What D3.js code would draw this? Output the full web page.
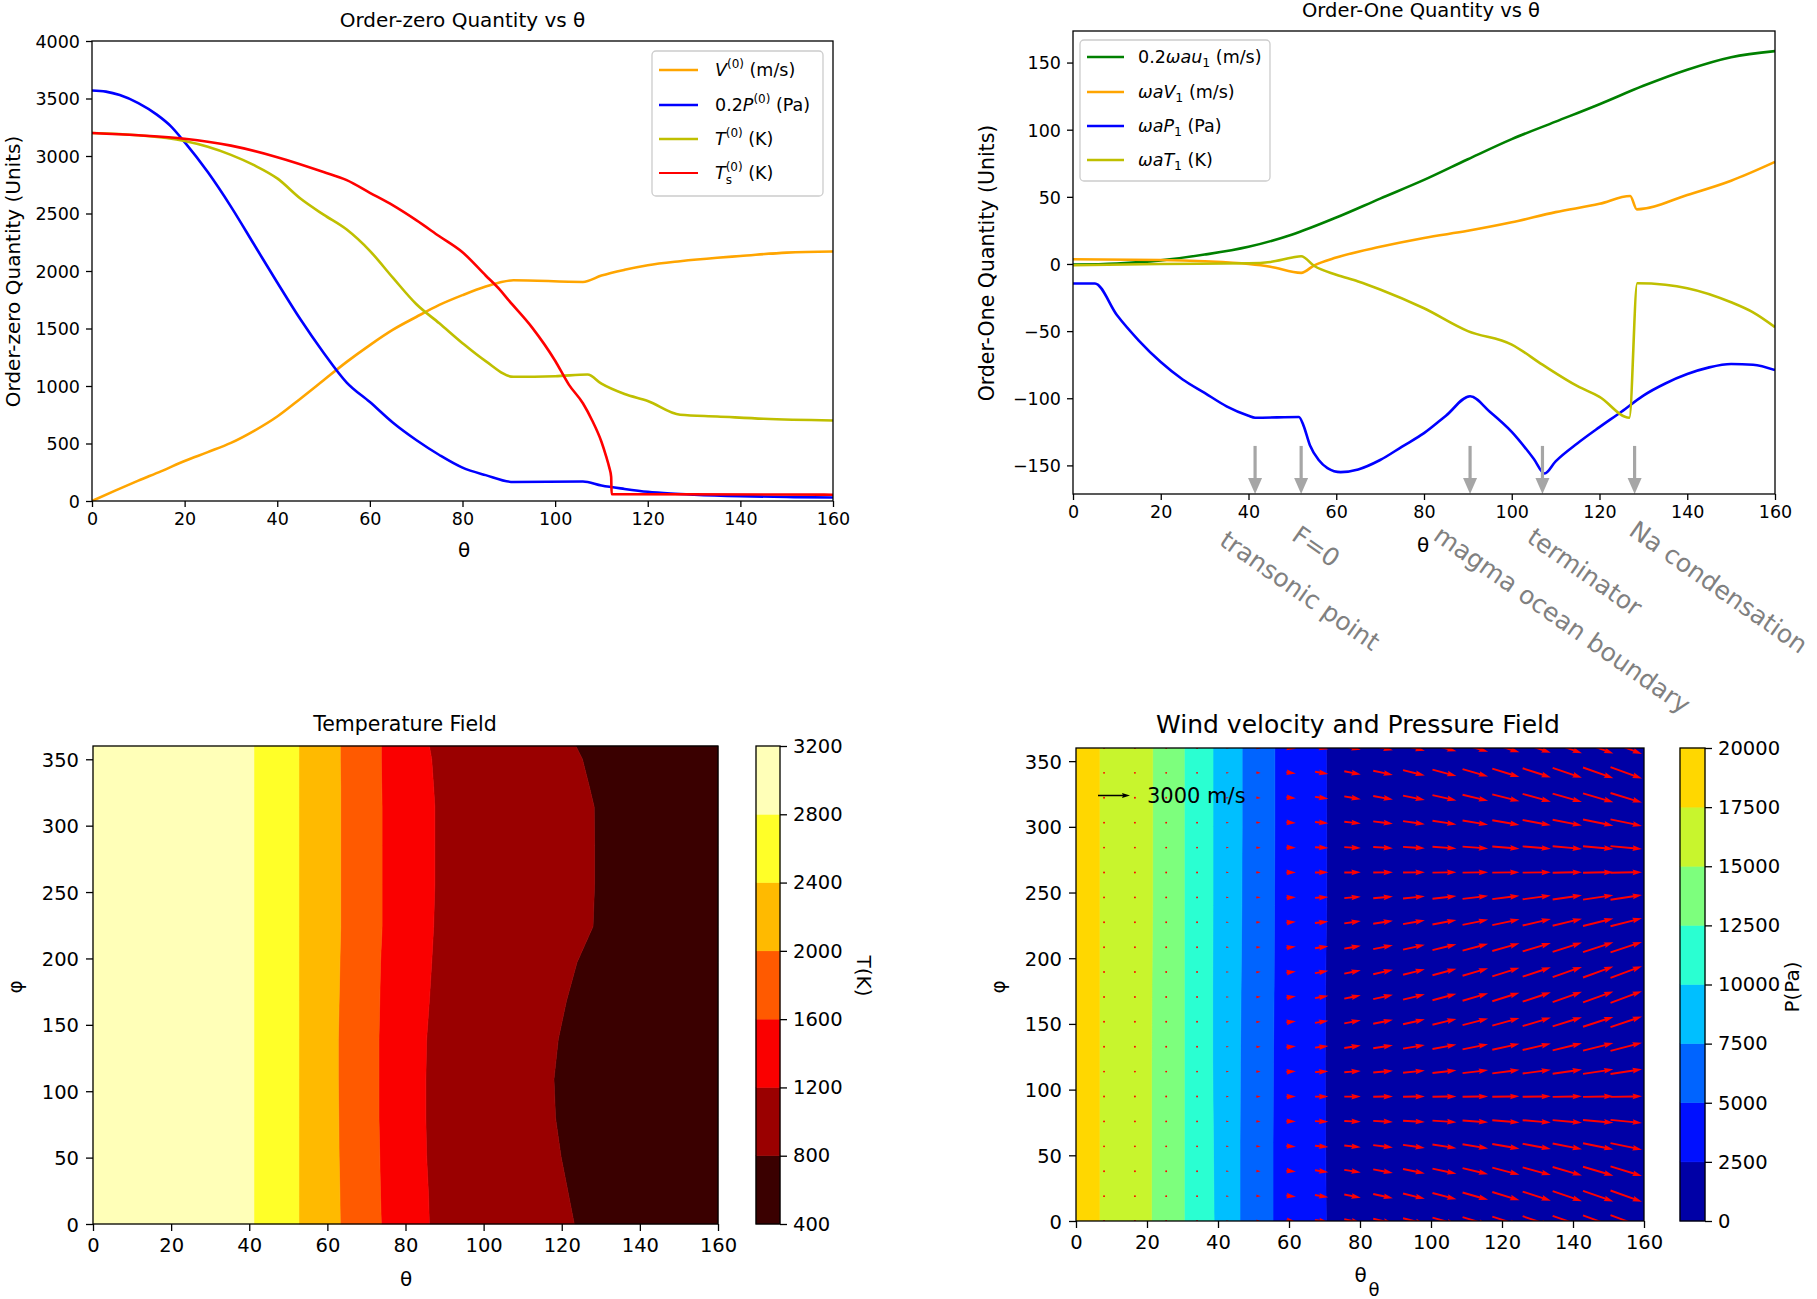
<!DOCTYPE html>
<html><head><meta charset="utf-8">
<script src="https://cdn.jsdelivr.net/npm/d3@7"></script>
<style>body{margin:0;background:#fff}svg{display:block}text{font-family:"DejaVu Sans",sans-serif}</style>
</head><body><svg id="c" width="1817" height="1299"></svg>
<script>
// ---------------- DATA ----------------
// Panel A: order-zero quantities vs theta
const v0Theta = [0,5,10,15,20,25,30,35,40,45,50,55,60,65,70,75,80,85,88,91,106,110,115,120,127,135,140,150,160];
const v0Vals  = [0,90,177,260,348,425,505,610,735,890,1050,1210,1356,1490,1600,1705,1790,1865,1900,1920,1905,1960,2010,2050,2085,2115,2130,2160,2170];
const p0Theta = [0,3,6,10,14,17,20,25,30,35,40,45,50,55,60,65,70,75,80,85,91,106,110,115,120,125,130,140,150,160];
const p0Vals  = [3570,3560,3530,3460,3360,3260,3120,2860,2560,2230,1900,1580,1290,1030,860,680,530,400,290,225,165,170,135,105,80,65,55,42,35,30];
const t0Theta = [0,10,20,25,30,35,40,45,50,55,60,65,70,75,80,85,91,100,107,110,115,120,127,135,145,160];
const t0Vals  = [3200,3180,3130,3080,3010,2920,2805,2630,2490,2360,2175,1940,1713,1545,1372,1216,1080,1085,1100,1020,930,870,750,735,715,700];
const ts0Theta = [0,10,20,30,40,50,55,60,65,70,75,80,85,88,90,95,100,103,106,108,110,111,111.7,112.1,112.2,160];
const ts0Vals  = [3200,3180,3150,3090,2990,2861,2790,2680,2570,2442,2302,2163,1961,1840,1744,1510,1220,1010,850,700,515,390,290,210,60,55];

// Panel B: order-one quantities vs theta
const u1Theta = [0,10,20,30,40,50,60,70,80,90,100,110,120,130,140,150,160];
const u1Vals  = [-0.5,0.3,2.7,7,12.8,22,34.6,48.7,62.6,78,93,106,119,132.7,144.7,154,158.5];
const v1Theta = [0,20,30,40,45,52,55,60,70,80,90,100,110,120,127,128.5,140,150,160];
const v1Vals  = [3.5,3,2,0,-2,-6.6,-1,4.8,12.8,19.4,24.7,31,38.6,44.8,50.6,40.7,51.4,62,76];
const p1Theta = [0,5,10,15,20,25,30,35,40,41.5,51.5,52.5,54,56,58,61,65,70,75,80,85,90.5,95,100,105,107.5,110,115,120,125,130,135,140,145,150,155,160];
const p1Vals  = [-14.5,-14.5,-38,-57,-73,-86,-96,-106,-113,-114.5,-114,-120,-135,-146,-152,-155,-153,-146,-136,-126,-113,-98.5,-110,-125,-145,-156,-147,-133.5,-121.5,-110,-98,-89,-82,-77,-74.5,-75,-79];
const t1Theta = [0,20,40,45,50,52,55,60,65,70,80,90,100,107,115,120,126.8,128.6,135,140,150,155,160];
const t1Vals  = [-1,0,0.5,1.5,4.8,5.8,-1.5,-8,-13,-19,-33,-50,-60,-75,-91,-99,-114.5,-14.4,-15.5,-18,-28.5,-36,-47];
const markerTheta  = [41.5,52,90.5,107,128];
const markerLabels = ["transonic point","F=0","magma ocean boundary","terminator","Na condensation"];
const markerArrowTop = -135.5;

// Panel C: temperature field (filled contour band edges, theta of each level boundary at sampled phi)
const tempLevels = [400,800,1200,1600,2000,2400,2800,3200];
const tempPhi   = [0,21,51,80,109,139,168,197,224,256,285,314,329,350,360];
const tempEdge800  = [123.2,121.8,119.8,118.4,118.0,119.1,121.2,123.9,128.0,128.4,128.4,128.3,127.1,125.3,123.6];
const tempEdge1200 = [86.1,85.9,85.4,85.2,85.2,85.4,86.1,86.7,87.2,87.5,87.5,87.5,87.2,86.7,86.1];
const tempEdge1600 = [73.8,73.6,73.4,73.2,73.2,73.2,73.4,73.6,74.0,74.0,74.0,74.0,73.9,73.8,73.8];
const tempEdge2000 = [63.3,63.2,63.0,62.9,62.8,62.8,63.0,63.2,63.4,63.4,63.4,63.4,63.4,63.3,63.3];
const tempEdge2400 = [52.7,52.7,52.7,52.7,52.7,52.7,52.7,52.7,52.7,52.7,52.7,52.7,52.7,52.7,52.7];
const tempEdge2800 = [41.2,41.2,41.2,41.2,41.2,41.2,41.2,41.2,41.2,41.2,41.2,41.2,41.2,41.2,41.2];
const tempColors = ['#3a0000','#9a0000','#fa0000','#ff5a00','#ffba00','#ffff28','#ffffb8'];

// Panel D: pressure field + wind vectors
const presLevels = [0,2500,5000,7500,10000,12500,15000,17500,20000];
const presPhi = [0,60,120,180,240,300,360];
const presEdge2500  = [70.5,70.3,70.2,70.3,70.6,70.6,70.5];
const presEdge5000  = [55.5,55.5,55.6,55.8,55.9,56.0,56.0];
const presEdge7500  = [46.2,46.2,46.3,46.5,46.7,46.8,46.8];
const presEdge10000 = [38.9,38.7,38.5,38.5,38.6,38.6,38.6];
const presEdge12500 = [30.5,30.5,30.5,30.5,30.5,30.5,30.5];
const presEdge15000 = [21.3,21.3,21.3,21.4,21.6,21.6,21.6];
const presEdge17500 = [6.6,6.6,6.6,6.6,6.6,6.6,6.6];
const presColors = ['#0000a6','#0010ff','#0064ff','#00bfff','#2affd2','#7dff7d','#c8f52d','#ffd700'];
const quiverTheta = [7.9,16.6,25.4,34.1,42.7,51.4,60.6,69.2,77.9,86.5,95.2,103.8,112.5,121.1,129.8,138.4,147.1,155.0];
const quiverPhi = [0,18.9,37.9,56.8,75.8,94.7,113.7,132.6,151.6,170.5,189.5,208.4,227.4,246.3,265.3,284.2,303.2,322.1,341.1,360];
const quiverU = [40,60,90,140,260,420,900,1250,1550,1850,2050,2250,2400,2550,2650,2750,2850,2950];
const quiverVAmp = [0,0,0,0,0,40,120,220,320,420,520,620,720,820,900,980,1050,1120];
const quiverRowFactor = [-1.0,-0.95,-0.8,-0.55,-0.25,0.05,0.4,0.68,0.88,0.98,0.98,0.88,0.68,0.4,0.05,-0.25,-0.55,-0.8,-0.95,-1.0];
const quiverKeySpeed = 3000;

// ---------------- DRAWING ----------------
const svg = d3.select('#c');
const BLACK = '#000';

function styleAxis(g, fs){
  g.attr('font-size', fs).attr('font-family','DejaVu Sans, sans-serif');
  g.select('.domain').remove();
  g.selectAll('line').attr('stroke',BLACK).attr('stroke-width',1.3);
  g.selectAll('text').attr('fill',BLACK);
}
function drawAxes(x, y, xt, yt, fs, tick){
  const [x0,x1] = x.range(), [y1,y0] = y.range();
  const gx = svg.append('g').attr('transform',`translate(0,${y1})`)
    .call(d3.axisBottom(x).tickValues(xt).tickFormat(d3.format('d')).tickSize(tick).tickSizeOuter(0).tickPadding(tick));
  styleAxis(gx, fs);
  const gy = svg.append('g').attr('transform',`translate(${x0},0)`)
    .call(d3.axisLeft(y).tickValues(yt).tickFormat(d3.format('d')).tickSize(tick).tickSizeOuter(0).tickPadding(tick));
  styleAxis(gy, fs);
  gy.selectAll('text').attr('dy','0.36em');
}
function frame(x,y){
  const [x0,x1] = x.range(), [y1,y0] = y.range();
  svg.append('rect').attr('x',x0).attr('y',y0).attr('width',x1-x0).attr('height',y1-y0)
    .attr('fill','none').attr('stroke',BLACK).attr('stroke-width',1.3);
}
function text(x,y,s,fs,opt={}){
  const t = svg.append('text').attr('x',x).attr('y',y).attr('font-size',fs)
    .attr('text-anchor',opt.anchor||'middle').attr('fill',opt.fill||BLACK).text(s);
  if(opt.rotate!==undefined) t.attr('transform',`rotate(${opt.rotate},${x},${y})`);
  return t;
}
function clip(id,x,y){
  const [x0,x1] = x.range(), [y1,y0] = y.range();
  svg.append('clipPath').attr('id',id).append('rect').attr('x',x0).attr('y',y0).attr('width',x1-x0).attr('height',y1-y0);
  return `url(#${id})`;
}

// ===== Panel A =====
{
  const x = d3.scaleLinear().domain([0,160]).range([92,833]);
  const y = d3.scaleLinear().domain([0,4000]).range([501,41]);
  const cp = clip('clipA',x,y);
  const series = [
    {t:v0Theta,v:v0Vals,c:'#ffa500'},
    {t:p0Theta,v:p0Vals,c:'#0000ff'},
    {t:t0Theta,v:t0Vals,c:'#bfbf00'},
    {t:ts0Theta,v:ts0Vals,c:'#ff0000'}];
  const g = svg.append('g').attr('clip-path',cp);
  series.forEach(s=>{
    const line = d3.line().curve(d3.curveMonotoneX).x((d,i)=>x(s.t[i])).y((d,i)=>y(d));
    g.append('path').attr('d',line(s.v)).attr('fill','none').attr('stroke',s.c).attr('stroke-width',2.6).attr('stroke-linejoin','round');
  });
  frame(x,y);
  drawAxes(x,y,d3.range(0,161,20),d3.range(0,4001,500),17.5,6);
  text(462.5,27,'Order-zero Quantity vs θ',20);
  text(464,557,'θ',20);
  text(20,271.5,'Order-zero Quantity (Units)',20,{rotate:-90});
  // legend
  const lg = svg.append('g').attr('font-size',17.5);
  lg.append('rect').attr('x',652).attr('y',51).attr('width',171).attr('height',145).attr('rx',4)
    .attr('fill','#fff').attr('fill-opacity',0.8).attr('stroke','#cccccc').attr('stroke-width',1.3);
  const ys=[70,105,139,173];
  series.forEach((s,i)=>{
    lg.append('line').attr('x1',659).attr('x2',698).attr('y1',ys[i]).attr('y2',ys[i]).attr('stroke',s.c).attr('stroke-width',i===3?1.8:2.6);
  });
  const mk = (i)=> lg.append('text').attr('x',715).attr('y',ys[i]+6).attr('fill',BLACK);
  let t=mk(0); t.append('tspan').attr('font-style','italic').text('V');
  t.append('tspan').attr('font-size',12).attr('dy',-8).text('(0)');
  t.append('tspan').attr('dy',8).text(' (m/s)');
  t=mk(1); t.append('tspan').text('0.2'); t.append('tspan').attr('font-style','italic').text('P');
  t.append('tspan').attr('font-size',12).attr('dy',-8).text('(0)');
  t.append('tspan').attr('dy',8).text(' (Pa)');
  t=mk(2); t.append('tspan').attr('font-style','italic').text('T');
  t.append('tspan').attr('font-size',12).attr('dy',-8).text('(0)');
  t.append('tspan').attr('dy',8).text(' (K)');
  t=mk(3); t.append('tspan').attr('font-style','italic').text('T');
  t.append('tspan').attr('font-size',12).attr('dy',5).text('s');
  t.append('tspan').attr('font-size',12).attr('dx',-6.3).attr('dy',-13).text('(0)');
  t.append('tspan').attr('dy',8).text(' (K)');
}

// ===== Panel B =====
{
  const x = d3.scaleLinear().domain([0,160]).range([1073,1775]);
  const y = d3.scaleLinear().domain([-171.3,173.5]).range([494,31]);
  const cp = clip('clipB',x,y);
  const series = [
    {t:u1Theta,v:u1Vals,c:'#008000'},
    {t:v1Theta,v:v1Vals,c:'#ffa500'},
    {t:p1Theta,v:p1Vals,c:'#0000ff'},
    {t:t1Theta,v:t1Vals,c:'#bfbf00'}];
  const g = svg.append('g').attr('clip-path',cp);
  series.forEach(s=>{
    const line = d3.line().curve(d3.curveMonotoneX).x((d,i)=>x(s.t[i])).y((d,i)=>y(d));
    g.append('path').attr('d',line(s.v)).attr('fill','none').attr('stroke',s.c).attr('stroke-width',2.6).attr('stroke-linejoin','round');
  });
  // markers
  const ybot = y.range()[0];
  markerTheta.forEach(th=>{
    const xa = x(th), yt = y(markerArrowTop);
    g.append('line').attr('x1',xa).attr('x2',xa).attr('y1',yt).attr('y2',ybot-14).attr('stroke','#a6a6a6').attr('stroke-width',3.2);
    g.append('path').attr('d',`M${xa-7},${ybot-16}L${xa+7},${ybot-16}L${xa},${ybot}Z`).attr('fill','#a6a6a6');
  });
  frame(x,y);
  drawAxes(x,y,d3.range(0,161,20),d3.range(-150,151,50),17.5,6);
  text(1421,16.5,'Order-One Quantity vs θ',19.5);
  text(1423,552,'θ',20);
  text(994,263,'Order-One Quantity (Units)',20.5,{rotate:-90});
  const labelOffset = [[-37,8],[-11,3],[-38,3],[-17,5],[-7,-2]];
  markerTheta.forEach((th,i)=>{
    const lx = x(th)+labelOffset[i][0], ly = 536+labelOffset[i][1];
    text(lx,ly,markerLabels[i],25,{anchor:'start',fill:'#808080',rotate:35});
  });
  // legend
  const lg = svg.append('g').attr('font-size',17.5);
  lg.append('rect').attr('x',1080).attr('y',40).attr('width',190).attr('height',141).attr('rx',4)
    .attr('fill','#fff').attr('fill-opacity',0.8).attr('stroke','#cccccc').attr('stroke-width',1.3);
  const ys=[57,92,126,160];
  series.forEach((s,i)=>{
    lg.append('line').attr('x1',1087).attr('x2',1124).attr('y1',ys[i]).attr('y2',ys[i]).attr('stroke',s.c).attr('stroke-width',2.6);
  });
  const names = [['0.2','ωau','(m/s)'],['','ωaV','(m/s)'],['','ωaP','(Pa)'],['','ωaT','(K)']];
  names.forEach((n,i)=>{
    const t = lg.append('text').attr('x',1138).attr('y',ys[i]+6).attr('fill',BLACK);
    if(n[0]) t.append('tspan').text(n[0]);
    t.append('tspan').attr('font-style','italic').text(n[1]);
    t.append('tspan').attr('font-size',12.5).attr('dy',4).text('1');
    t.append('tspan').attr('dy',-4).text(' '+n[2]);
  });
}

// ===== Panel C =====
{
  const x = d3.scaleLinear().domain([0,160]).range([93,718]);
  const y = d3.scaleLinear().domain([0,360]).range([1224,746]);
  const order = [tempPhi.map(()=>160), tempEdge800, tempEdge1200, tempEdge1600, tempEdge2000, tempEdge2400, tempEdge2800, tempPhi.map(()=>0)];
  const g = svg.append('g');
  for(let b=0;b<tempColors.length;b++){
    const right = order[b], left = order[b+1];
    const pts = tempPhi.map((p,i)=>[x(left[i]),y(p)]).concat(tempPhi.map((p,i)=>[x(right[i]),y(p)]).reverse());
    g.append('path').attr('d','M'+pts.map(p=>p.join(',')).join('L')+'Z').attr('fill',tempColors[b]).attr('stroke',tempColors[b]).attr('stroke-width',0.6);
  }
  frame(x,y);
  drawAxes(x,y,d3.range(0,161,20),d3.range(0,351,50),19.5,7);
  text(405,731,'Temperature Field',20.5);
  text(406,1286,'θ',20);
  text(22,987,'φ',20,{rotate:-90});
  // colorbar
  const cy = d3.scaleLinear().domain([400,3200]).range([1224,746]);
  for(let b=0;b<tempColors.length;b++){
    svg.append('rect').attr('x',756).attr('y',cy(tempLevels[b+1])).attr('width',24).attr('height',cy(tempLevels[b])-cy(tempLevels[b+1]))
      .attr('fill',tempColors[b]).attr('stroke',tempColors[b]).attr('stroke-width',0.5);
  }
  svg.append('rect').attr('x',756).attr('y',746).attr('width',24).attr('height',478).attr('fill','none').attr('stroke',BLACK).attr('stroke-width',1.3);
  const ga = svg.append('g').attr('transform','translate(780,0)')
    .call(d3.axisRight(cy).tickValues(tempLevels).tickFormat(d3.format('d')).tickSize(7).tickSizeOuter(0).tickPadding(6));
  styleAxis(ga,19.5);
  text(857,976,'T(K)',20,{rotate:90});
}

// ===== Panel D =====
{
  const x = d3.scaleLinear().domain([0,160]).range([1076,1644]);
  const y = d3.scaleLinear().domain([0,360]).range([1221,748]);
  const cp = clip('clipD',x,y);
  const order = [presPhi.map(()=>160), presEdge2500, presEdge5000, presEdge7500, presEdge10000, presEdge12500, presEdge15000, presEdge17500, presPhi.map(()=>0)];
  const g = svg.append('g').attr('clip-path',cp);
  for(let b=0;b<presColors.length;b++){
    const right = order[b], left = order[b+1];
    const pts = presPhi.map((p,i)=>[x(left[i]),y(p)]).concat(presPhi.map((p,i)=>[x(right[i]),y(p)]).reverse());
    g.append('path').attr('d','M'+pts.map(p=>p.join(',')).join('L')+'Z').attr('fill',presColors[b]).attr('stroke',presColors[b]).attr('stroke-width',0.6);
  }
  // quiver (pivot middle, matplotlib-like arrow)
  const pxPerMs = 32/quiverKeySpeed;
  const w = 1.9;
  function arrowPath(cx,cy,u,v,col){
    const L = Math.hypot(u,v)*pxPerMs;
    const a = Math.atan2(-v,u);
    if(L < w){
      g.append('circle').attr('cx',cx).attr('cy',cy).attr('r',w/2).attr('fill',col);
      return;
    }
    let s = 1, Ls = L;
    if(L < 5*w){ s = L/(5*w); Ls = 5*w; }
    const pts = [[0,-w/2],[Ls-4.5*w,-w/2],[Ls-5*w,-1.5*w],[Ls,0],[Ls-5*w,1.5*w],[Ls-4.5*w,w/2],[0,w/2]]
      .map(([px,py])=>[px*s - L/2, py*s]);
    const ca=Math.cos(a), sa=Math.sin(a);
    const d = 'M'+pts.map(([px,py])=>[cx+px*ca-py*sa, cy+px*sa+py*ca].map(n=>n.toFixed(2)).join(',')).join('L')+'Z';
    g.append('path').attr('d',d).attr('fill',col);
  }
  quiverTheta.forEach((th,i)=>{
    quiverPhi.forEach((ph,j)=>{
      arrowPath(x(th), y(ph), quiverU[i], quiverVAmp[i]*quiverRowFactor[j], '#ff0000');
    });
  });
  // key
  {
    const kx=1098, ky=795.5, L=quiverKeySpeed*pxPerMs, kw=1.6;
    const pts=[[0,-kw/2],[L-4.5*kw,-kw/2],[L-5*kw,-1.5*kw],[L,0],[L-5*kw,1.5*kw],[L-4.5*kw,kw/2],[0,kw/2]];
    svg.append('path').attr('d','M'+pts.map(([a,b])=>[kx+a,ky+b].join(',')).join('L')+'Z').attr('fill',BLACK);
    text(1147,803,'3000 m/s',21,{anchor:'start'});
  }
  frame(x,y);
  drawAxes(x,y,d3.range(0,161,20),d3.range(0,351,50),19.5,7);
  text(1358,733,'Wind velocity and Pressure Field',25);
  text(1360.5,1282,'θ',20);
  text(1374,1296,'θ',18);
  text(1005,987,'φ',20,{rotate:-90});
  const cy = d3.scaleLinear().domain([0,20000]).range([1221,748]);
  for(let b=0;b<presColors.length;b++){
    svg.append('rect').attr('x',1680).attr('y',cy(presLevels[b+1])).attr('width',25).attr('height',cy(presLevels[b])-cy(presLevels[b+1]))
      .attr('fill',presColors[b]).attr('stroke',presColors[b]).attr('stroke-width',0.5);
  }
  svg.append('rect').attr('x',1680).attr('y',748).attr('width',25).attr('height',473).attr('fill','none').attr('stroke',BLACK).attr('stroke-width',1.3);
  const ga = svg.append('g').attr('transform','translate(1705,0)')
    .call(d3.axisRight(cy).tickValues(presLevels).tickFormat(d3.format('d')).tickSize(7).tickSizeOuter(0).tickPadding(6));
  styleAxis(ga,19.5);
  text(1799,987,'P(Pa)',20,{rotate:-90});
}
</script></body></html>
